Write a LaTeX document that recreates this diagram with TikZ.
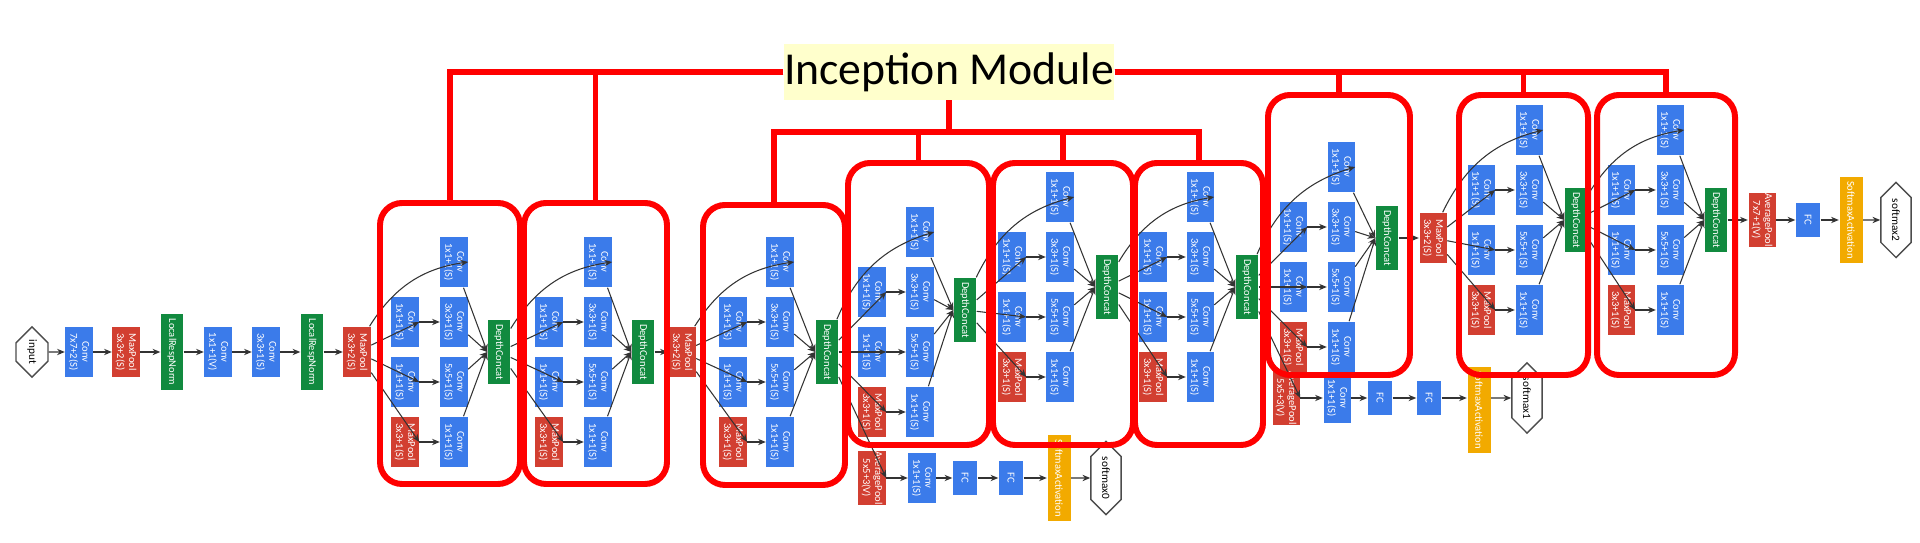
\documentclass[tikz,border=0pt]{standalone}
\usepackage{fontspec}
\setmainfont{Carlito}
\usetikzlibrary{arrows.meta,shapes.misc}

\definecolor{convblue}{HTML}{3B7BEA}
\definecolor{poolred}{HTML}{D23F31}
\definecolor{concgreen}{HTML}{118A3F}
\definecolor{actyellow}{HTML}{F2AA00}
\definecolor{labfill}{HTML}{FFFFCC}

\tikzset{
  blk/.style={rotate=-90,inner sep=0pt,text=white,align=center,
    font=\fontsize{3}{3.4}\selectfont,minimum width=0.5cm,minimum height=0.27cm},
  conv/.style={blk,fill=convblue},
  pool/.style={blk,fill=poolred},
  norm/.style={blk,fill=concgreen,minimum width=0.75cm,minimum height=0.22cm},
  conc/.style={blk,fill=concgreen,minimum width=0.64cm,minimum height=0.22cm},
  fc/.style={blk,fill=convblue,minimum width=0.34cm,minimum height=0.24cm},
  act/.style={blk,fill=actyellow,minimum width=0.86cm,minimum height=0.23cm},
  term/.style={chamfered rectangle,chamfered rectangle xsep=0.1cm,draw=black!70,thin,fill=white,
    rotate=-90,inner sep=0pt,font=\fontsize{3.2}{3.6}\selectfont,
    minimum width=0.5cm,minimum height=0.23cm},
  flow/.style={-{Stealth[length=2.2pt,width=1.8pt]},black!80,line width=0.3pt},
  module/.style={draw=red,line width=1.7pt,rounded corners=0.22cm,inner sep=0pt},
  bracket/.style={draw=red,line width=1.5pt}
}

% one inception block: name, col A x, col B x, concat x, top row y, concat y, input node
\newcommand{\incmod}[7]{
  \node[conv] (#1-b1) at (#3,#5) {Conv\\1x1+1(S)};
  \node[conv] (#1-a2) at (#2,{#5+60}) {Conv\\1x1+1(S)};
  \node[conv] (#1-b2) at (#3,{#5+60}) {Conv\\3x3+1(S)};
  \node[conv] (#1-a3) at (#2,{#5+120}) {Conv\\1x1+1(S)};
  \node[conv] (#1-b3) at (#3,{#5+120}) {Conv\\5x5+1(S)};
  \node[pool] (#1-a4) at (#2,{#5+180}) {MaxPool\\3x3+1(S)};
  \node[conv] (#1-b4) at (#3,{#5+180}) {Conv\\1x1+1(S)};
  \node[conc] (#1-dc) at (#4,#6) {DepthConcat};
  \draw[flow] (#7) to[bend left=25] (#1-b1.north);
  \foreach \k in {2,3,4} {
    \draw[flow] (#7) -- (#1-a\k.north);
    \draw[flow] (#1-a\k) -- (#1-b\k);
  }
  \foreach \k in {1,...,4}
    \draw[flow] (#1-b\k) -- (#1-dc.south);
}

\begin{document}
\begin{tikzpicture}[x=0.01cm,y=-0.01cm]
  \useasboundingbox (0,0) rectangle (1920,543);

  % stem
  \node[term] (in) at (32,352) {input};
  \node[conv] (c1) at (79,352) {Conv\\7x7+2(S)};
  \node[pool] (mp1) at (126,352) {MaxPool\\3x3+2(S)};
  \node[norm] (ln1) at (172,352) {LocalRespNorm};
  \node[conv] (c2) at (218,352) {Conv\\1x1+1(V)};
  \node[conv] (c3) at (266,352) {Conv\\3x3+1(S)};
  \node[norm] (ln2) at (312,352) {LocalRespNorm};
  \node[pool] (mp2) at (357,352) {MaxPool\\3x3+2(S)};
  \draw[flow] (in) -- (c1);
  \draw[flow] (c1) -- (mp1);
  \draw[flow] (mp1) -- (ln1);
  \draw[flow] (ln1) -- (c2);
  \draw[flow] (c2) -- (c3);
  \draw[flow] (c3) -- (ln2);
  \draw[flow] (ln2) -- (mp2);

  \incmod{i1}{405}{454}{499}{262}{352}{mp2}
  \incmod{i2}{549}{598}{643}{262}{352}{i1-dc}
  \node[pool] (mp3) at (682,352) {MaxPool\\3x3+2(S)};
  \draw[flow] (i2-dc) -- (mp3);
  \incmod{i3}{733}{780}{827}{262}{352}{mp3}
  \incmod{i4}{872}{920}{965}{232}{310}{i3-dc}
  \incmod{i5}{1012}{1060}{1107}{197}{287}{i4-dc}
  \incmod{i6}{1153}{1200}{1247}{197}{287}{i5-dc}
  \incmod{i7}{1293}{1341}{1387}{167}{238}{i6-dc}
  \node[pool] (mp4) at (1433,238) {MaxPool\\3x3+2(S)};
  \draw[flow] (i7-dc) -- (mp4);
  \incmod{i8}{1481}{1529}{1576}{130}{220}{mp4}
  \incmod{i9}{1621}{1670}{1716}{130}{220}{i8-dc}

  % head
  \node[pool] (ap2) at (1762,220) {AveragePool\\7x7+1(V)};
  \node[fc] (fc5) at (1808,220) {FC};
  \node[act] (sa2) at (1851,220) {SoftmaxActivation};
  \node[term,minimum width=0.75cm,minimum height=0.25cm] (sm2) at (1896,220) {softmax2};
  \draw[flow] (i9-dc) -- (ap2);
  \draw[flow] (ap2) -- (fc5);
  \draw[flow] (fc5) -- (sa2);
  \draw[flow] (sa2) -- (sm2);

  % auxiliary heads
  \node[pool] (ap0) at (872,478) {AveragePool\\5x5+3(V)};
  \node[conv] (c4) at (922,478) {Conv\\1x1+1(S)};
  \node[fc] (fc1) at (965,478) {FC};
  \node[fc] (fc2) at (1011,478) {FC};
  \node[act] (sa0) at (1059,478) {SoftmaxActivation};
  \node[term,minimum width=0.73cm] (sm0) at (1106,478) {softmax0};
  \draw[flow] (i3-dc) -- (ap0.north);
  \draw[flow] (ap0) -- (c4);
  \draw[flow] (c4) -- (fc1);
  \draw[flow] (fc1) -- (fc2);
  \draw[flow] (fc2) -- (sa0);
  \draw[flow] (sa0) -- (sm0);

  \node[pool] (ap1) at (1286,398) {AveragePool\\5x5+3(V)};
  \node[conv] (c5) at (1337,398) {Conv\\1x1+1(S)};
  \node[fc] (fc3) at (1380,398) {FC};
  \node[fc] (fc4) at (1429,398) {FC};
  \node[act] (sa1) at (1479,410) {SoftmaxActivation};
  \node[term,minimum width=0.7cm] (sm1) at (1527,398) {softmax1};
  \draw[flow] (i6-dc) -- (ap1.north);
  \draw[flow] (ap1) -- (c5);
  \draw[flow] (c5) -- (fc3);
  \draw[flow] (fc3) -- (fc4);
  \draw[flow] (fc4) -- (sa1.south |- fc4);
  \draw[flow] (sa1.north |- fc4) -- (sm1);

  % inception frames
  \foreach \n/\l/\t/\r/\b in {m1/380/203/520/484, m2/524/203/667/484,
      m3/703/205/845/485, m4/848/163/989/445, m5/993/163/1133/445,
      m6/1135/163/1263/445, m7/1268/95/1410/375, m8/1459/95/1588/375,
      m9/1597/95/1735/375}
    \node[module,minimum width={(\r-\l)*0.01cm},minimum height={(\b-\t)*0.01cm}]
      (\n) at ({(\l+\r)/2},{(\t+\b)/2}) {};

  \node[fill=labfill,inner sep=0pt,minimum width=2.89cm,minimum height=0.55cm,
    font=\fontsize{13}{15}\selectfont] (lab) at (949,72) {Inception Module};
  \coordinate (jn) at (949,132);
  \draw[bracket] (lab.west) -| (m1.north);
  \draw[bracket] (lab.west) -| (m2.north);
  \foreach \n in {m7,m8,m9}
    \draw[bracket] (lab.east) -| (\n.north);
  \draw[bracket] (lab.south) -- (jn);
  \foreach \n in {m3,m4,m5,m6}
    \draw[bracket] (jn) -| (\n.north);
\end{tikzpicture}
\end{document}
